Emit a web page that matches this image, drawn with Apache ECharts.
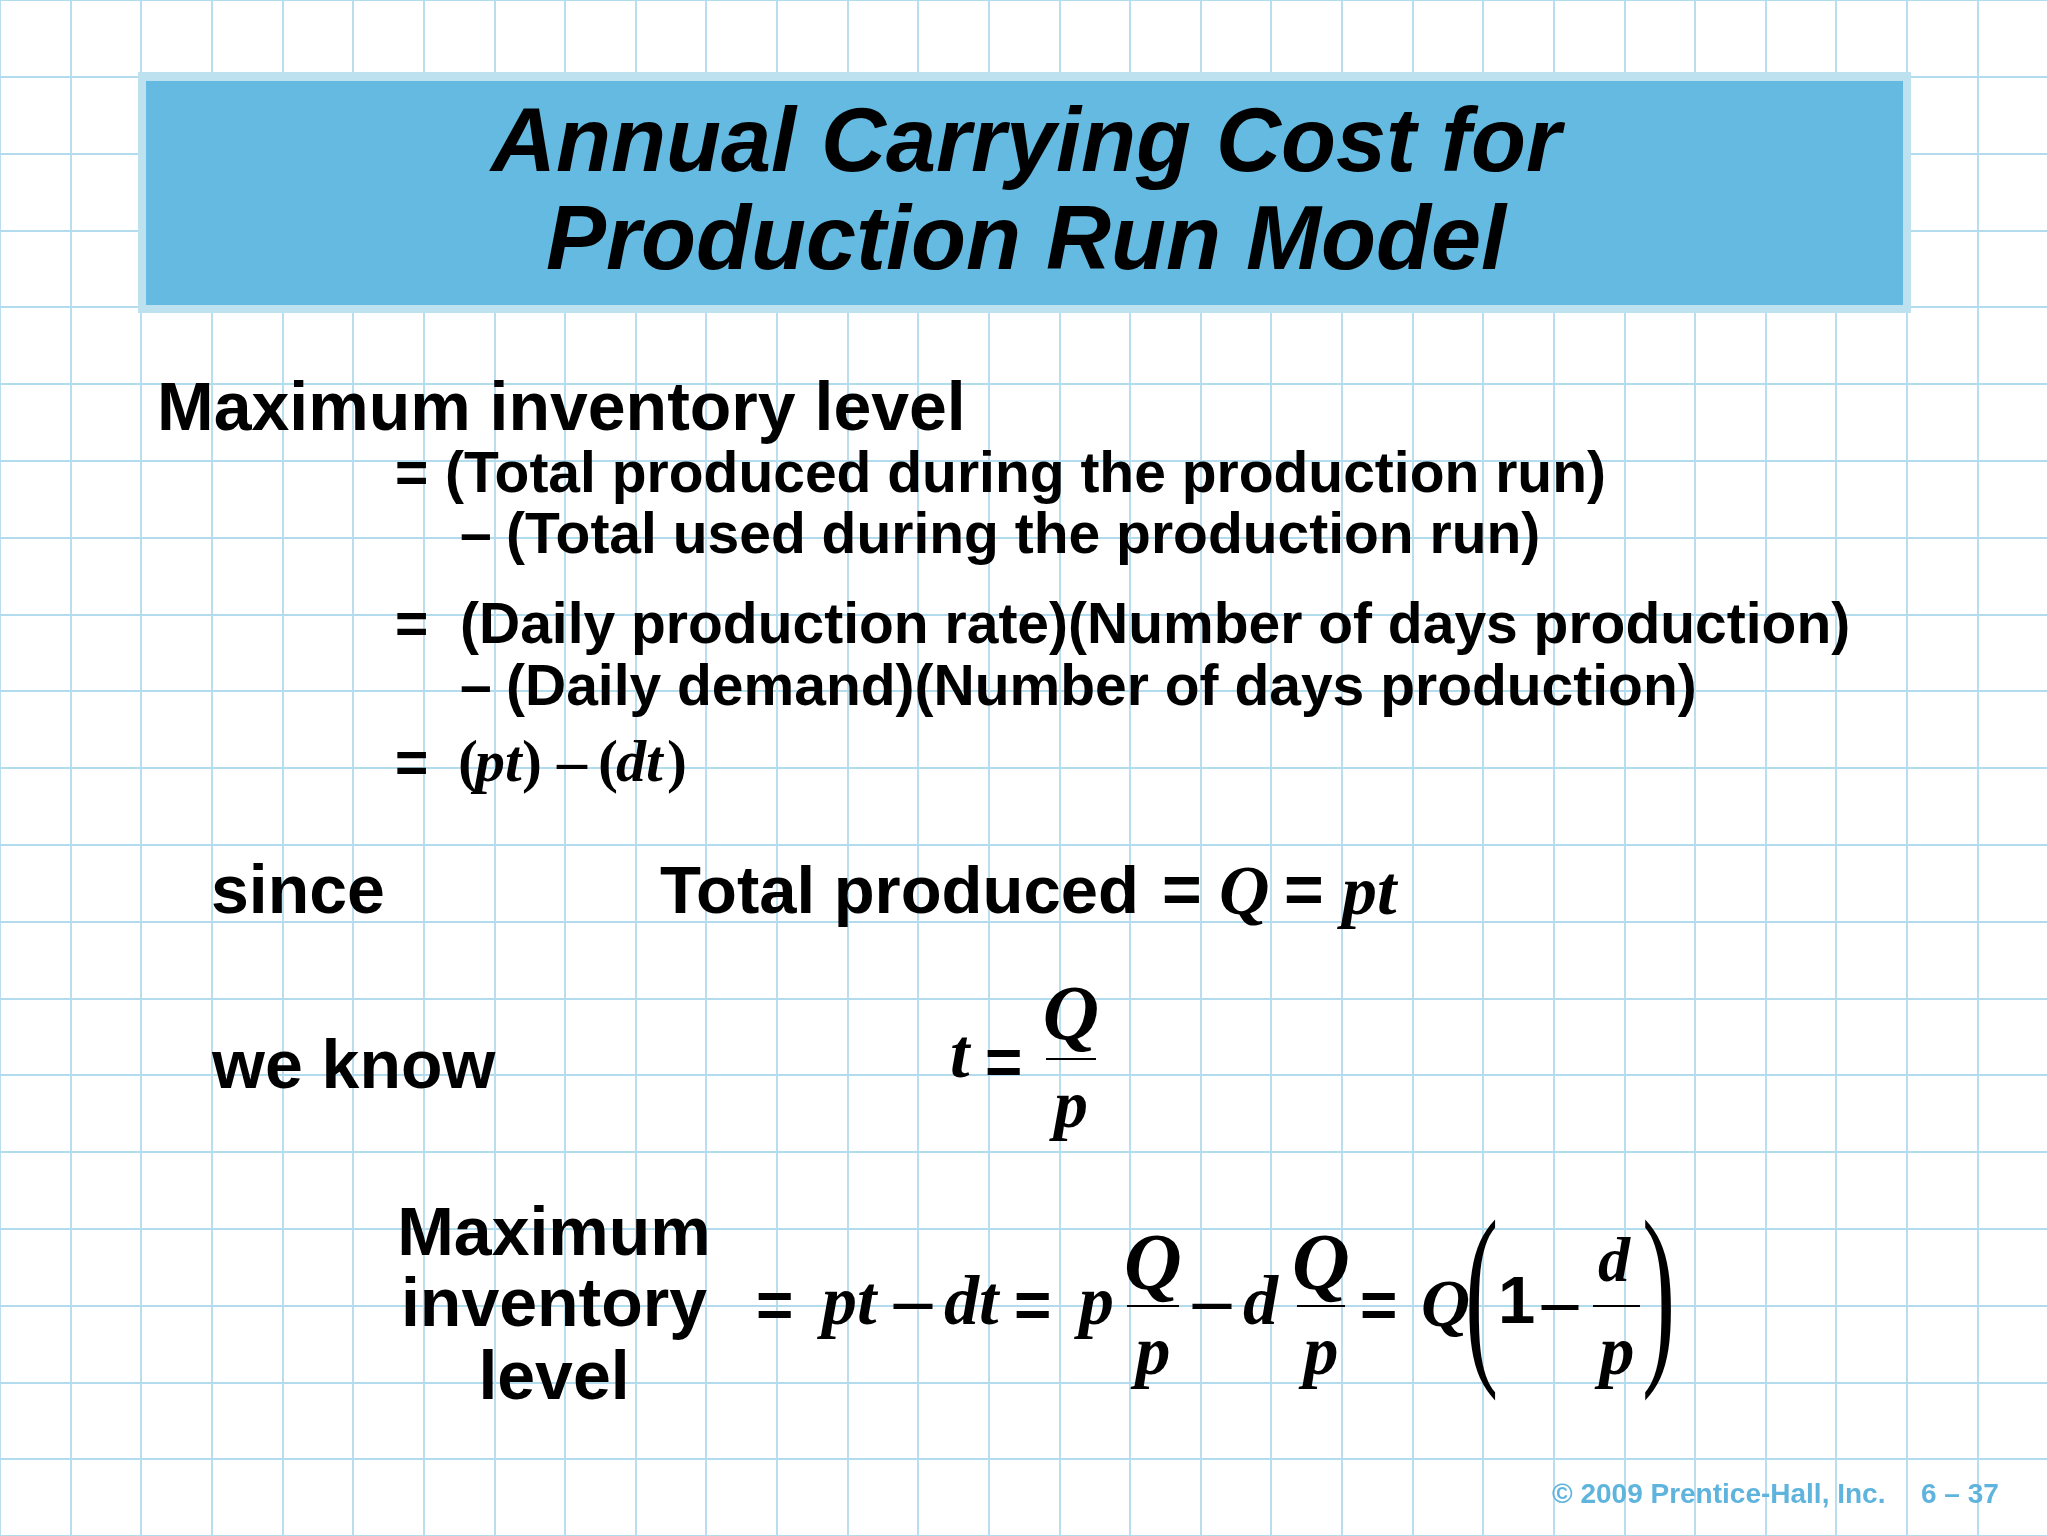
<!DOCTYPE html>
<html>
<head>
<meta charset="utf-8">
<script src="https://cdn.jsdelivr.net/npm/echarts@6/dist/echarts.min.js"></script>
<style>
html,body{margin:0;padding:0;background:#ffffff;}
#c{width:2048px;height:1536px;}
</style>
</head>
<body>
<div id="c"></div>
<script>
// ---- content ----
const gridColumns = [29];
const gridRows = [20];
const titleLines = ['Annual Carrying Cost for', 'Production Run Model'];
const headingLines = ['Maximum inventory level'];
const derivationOperators = ['=', '–', '=', '–', '='];
const derivationTerms = [
  '(Total produced during the production run)',
  '(Total used during the production run)',
  '(Daily production rate)(Number of days production)',
  '(Daily demand)(Number of days production)'
];
const productTerms = ['pt', 'dt'];
const sinceLabels = ['since', 'Total produced'];
const knowLabels = ['we know', 't'];
const fractionParts = ['Q', 'p', 'd'];
const bottomLabelLines = ['Maximum', 'inventory', 'level'];
const formulaTerms = ['pt', 'dt', 'p', 'd', 'Q', '1'];
const footerTexts = ['© 2009 Prentice-Hall, Inc.', '6 – 37'];

// ---- rendering ----
const chart = echarts.init(document.getElementById('c'), null, {renderer: 'canvas'});
const SANS = '"Liberation Sans", Arial, Helvetica, sans-serif';
const SERIF = '"Liberation Serif", "Times New Roman", Times, serif';
const MID = 0.27;

function T(text, x, base, size, o) {
  o = o || {};
  const fam = o.serif ? SERIF : SANS;
  const font = (o.italic ? 'italic ' : 'normal ') + (o.weight || 'bold') + ' ' + size + 'px ' + fam;
  const al = o.align || 'left';
  const el = {
    type: 'text', x: x, y: base - MID * size, z: 50, silent: true,
    style: {
      text: text, font: font, fill: o.color || '#000000',
      align: al, verticalAlign: 'middle',
      textAlign: al, textVerticalAlign: 'middle'
    }
  };
  if (o.scaleX) { el.scaleX = o.scaleX; }
  return el;
}
function bar(x1, x2, y) {
  return { type: 'line', z: 50, silent: true,
    shape: { x1: x1, y1: y, x2: x2, y2: y },
    style: { stroke: '#000000', lineWidth: 2.2 } };
}
const mathI = { serif: true, italic: true };
const els = [];

// title box
els.push({ type: 'rect', z: 40, silent: true, shape: { x: 138, y: 72, width: 1773, height: 241 }, style: { fill: '#bde1ee' } });
els.push({ type: 'rect', z: 41, silent: true, shape: { x: 146, y: 81, width: 1757, height: 224 }, style: { fill: '#64bae0' } });
els.push(T(titleLines[0], 1026, 170, 90, { italic: true, align: 'center' }));
els.push(T(titleLines[1], 1026, 268, 90, { italic: true, align: 'center' }));

// heading and derivation
els.push(T(headingLines[0], 157, 430, 68));
const derivBase = [492, 553, 643, 705, 782];
const opX = [395, 460, 395, 460, 395];
const termX = [445, 506, 460, 506];
derivationOperators.forEach(function (op, i) { els.push(T(op, opX[i], derivBase[i], 57)); });
derivationTerms.forEach(function (t, i) { els.push(T(t, termX[i], derivBase[i], 57)); });
// = (pt) - (dt)
els.push(T('(', 458, 782, 60, { serif: true }));
els.push(T(productTerms[0], 475, 782, 60, mathI));
els.push(T(')', 522, 782, 60, { serif: true }));
els.push(T('–', 557, 782, 60, { serif: true }));
els.push(T('(', 598, 782, 60, { serif: true }));
els.push(T(productTerms[1], 616, 782, 60, mathI));
els.push(T(')', 667, 782, 60, { serif: true }));

// since  Total produced = Q = pt
els.push(T(sinceLabels[0], 211, 913, 68));
els.push(T(sinceLabels[1], 660, 913, 67));
els.push(T('=', 1162, 913, 68));
els.push(T(fractionParts[0], 1219, 915, 70, mathI));
els.push(T('=', 1284, 913, 68));
els.push(T(productTerms[0], 1342, 915, 70, mathI));

// we know  t = Q/p
els.push(T(knowLabels[0], 212, 1088, 68));
els.push(T(knowLabels[1], 950, 1078, 70, mathI));
els.push(T('=', 985, 1084, 64));
els.push(bar(1046, 1096, 1059));
els.push(T(fractionParts[0], 1071, 1040, 78, { serif: true, italic: true, align: 'center' }));
els.push(T(fractionParts[1], 1071, 1128, 68, { serif: true, italic: true, align: 'center' }));

// bottom label
els.push(T(bottomLabelLines[0], 554, 1255, 68, { align: 'center' }));
els.push(T(bottomLabelLines[1], 554, 1326, 68, { align: 'center' }));
els.push(T(bottomLabelLines[2], 554, 1399, 68, { align: 'center' }));

// = pt - dt = p Q/p - d Q/p = Q(1 - d/p)
els.push(T('=', 756, 1327, 64));
els.push(T(formulaTerms[0], 822, 1325, 70, mathI));
els.push(T('–', 894, 1325, 76, { serif: true }));
els.push(T(formulaTerms[1], 944, 1325, 70, mathI));
els.push(T('=', 1014, 1327, 64));
els.push(T(formulaTerms[2], 1079, 1325, 70, mathI));
els.push(bar(1127, 1179, 1306));
els.push(T(fractionParts[0], 1153, 1290, 80, { serif: true, italic: true, align: 'center' }));
els.push(T(fractionParts[1], 1153, 1375, 70, { serif: true, italic: true, align: 'center' }));
els.push(T('–', 1193, 1325, 76, { serif: true }));
els.push(T(formulaTerms[3], 1243, 1325, 70, mathI));
els.push(bar(1297, 1345, 1306));
els.push(T(fractionParts[0], 1321, 1290, 80, { serif: true, italic: true, align: 'center' }));
els.push(T(fractionParts[1], 1321, 1375, 70, { serif: true, italic: true, align: 'center' }));
els.push(T('=', 1360, 1327, 64));
els.push(T(formulaTerms[4], 1421, 1327, 68, mathI));
els.push(T('(', 1465, 1359, 200, { serif: true, weight: 'normal', scaleX: 0.5 }));
els.push(T(formulaTerms[5], 1498, 1323, 67));
els.push(T('–', 1542, 1325, 72, { serif: true }));
els.push(bar(1593, 1640, 1306));
els.push(T(fractionParts[2], 1614, 1282, 64, { serif: true, italic: true, align: 'center' }));
els.push(T(fractionParts[1], 1617, 1375, 70, { serif: true, italic: true, align: 'center' }));
els.push(T(')', 1642, 1359, 200, { serif: true, weight: 'normal', scaleX: 0.5 }));

// footer
els.push(T(footerTexts[0], 1552, 1503, 28, { color: '#5fb4dd' }));
els.push(T(footerTexts[1], 1921, 1503, 28, { color: '#5fb4dd' }));

const option = {
  backgroundColor: '#ffffff',
  animation: false,
  grid: { left: 0, right: 0, top: 0, bottom: 0, containLabel: false },
  xAxis: {
    type: 'value', min: 0, max: gridColumns[0], interval: 1,
    axisLine: { show: false }, axisTick: { show: false }, axisLabel: { show: false },
    splitLine: { show: true, lineStyle: { color: '#b3dbee', width: 1.8 } }
  },
  yAxis: {
    type: 'value', min: 0, max: gridRows[0], interval: 1,
    axisLine: { show: false }, axisTick: { show: false }, axisLabel: { show: false },
    splitLine: { show: true, lineStyle: { color: '#b3dbee', width: 1.8 } }
  },
  series: [{ type: 'line', data: [], silent: true }],
  graphic: { elements: els }
};
chart.setOption(option);
</script>
</body>
</html>
